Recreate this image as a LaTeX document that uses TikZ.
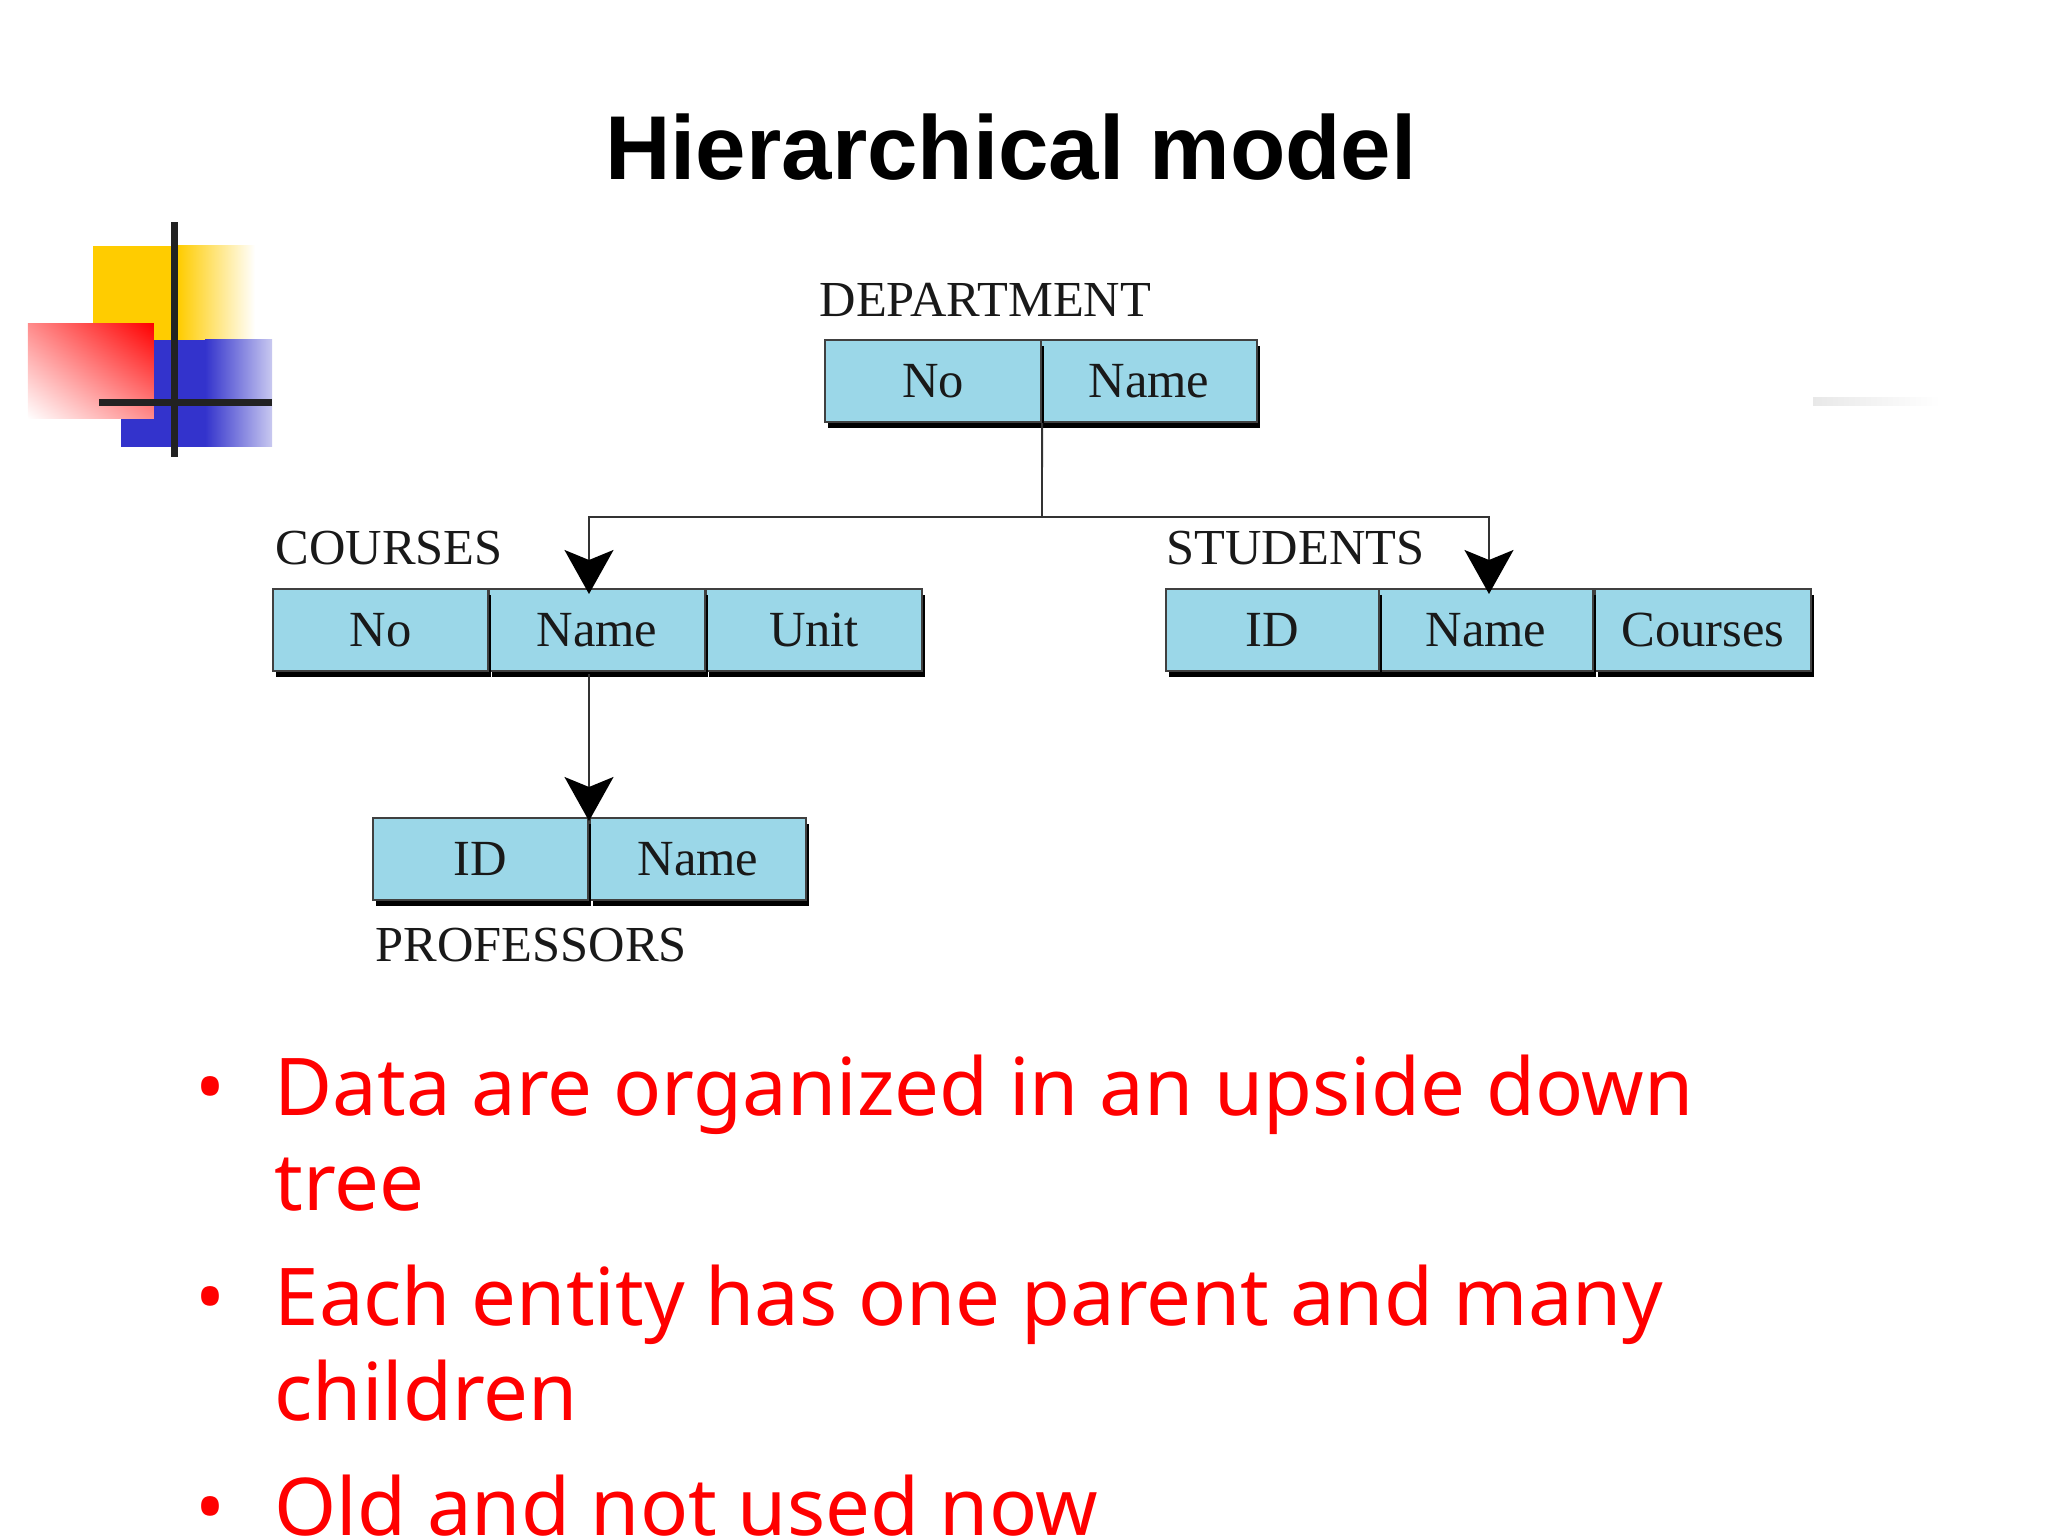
\documentclass[tikz,border=0pt]{standalone}
\usepackage{fontspec}
\setmainfont{Liberation Serif}
\newfontfamily\titlefont{Liberation Sans}
\newfontfamily\bulletfont{Noto Sans}
\usepackage{xcolor}
\usetikzlibrary{arrows.meta}
\usetikzlibrary{shadings}
\usetikzlibrary{shadows}
\definecolor{cellblue}{HTML}{9BD7E8}
\definecolor{logoyellow}{HTML}{FFCC00}
\definecolor{logoblue}{HTML}{3333CC}
\definecolor{logoedge}{HTML}{C8C8F0}
\definecolor{logopink}{HTML}{FF8C8C}
\definecolor{logobar}{HTML}{222222}
\tikzset{
  cell/.style={draw=black!75, line width=0.6pt, fill=cellblue, inner sep=0pt, minimum height=0.82cm,
    font=\fontsize{14.4}{16}\selectfont, text=black!90,
    drop shadow={shadow xshift=0.03cm, shadow yshift=-0.06cm, fill=black, opacity=1}},
  tablelabel/.style={anchor=base west, inner sep=0pt, font=\fontsize{14.35}{16}\selectfont, text=black!90},
  treeline/.style={line width=0.55pt, black!80},
  treearrow/.style={treeline, -{Stealth[length=0.44cm, width=0.49cm, inset=0.1cm, color=black]}},
  bulletline/.style={anchor=base west, inner sep=0pt, text=red, font=\bulletfont\fontsize{22.67}{26}\selectfont},
  bulletdot/.style={anchor=base, inner sep=0pt, text=red, font=\bulletfont\fontsize{22.67}{26}\selectfont},
}
\begin{document}
\begin{tikzpicture}[y=-1cm]
\useasboundingbox (0,0) rectangle (20.48,15.36);
% logo
\fill[logoyellow] (0.93,2.46) rectangle (1.78,3.40);
\shade[left color=logoyellow, right color=white] (1.78,2.46) rectangle (2.55,3.40);
\fill[logoblue] (1.21,3.40) rectangle (2.05,4.47);
\shade[left color=logoblue, right color=logoedge] (2.05,3.40) rectangle (2.72,4.47);
\shade[shading=bilinear interpolation, upper right=red, upper left=logopink, lower right=logopink, lower left=white] (0.28,3.24) rectangle (1.54,4.19);
\fill[logobar] (1.71,2.22) rectangle (1.78,4.57);
\fill[logobar] (0.99,3.99) rectangle (2.72,4.06);
\shade[left color=black!9, right color=white] (18.13,3.98) rectangle (19.40,4.06);
%
\node[font=\titlefont\bfseries\fontsize{25.8}{30}\selectfont, anchor=base, inner sep=0pt] (title) at (10.11,1.80) {Hierarchical model};
%
% department
\node[cell, minimum width=2.16cm] (deptName) at (11.49,3.81) {Name};
\node[cell, minimum width=2.16cm] (deptNo) at (9.33,3.81) {No};
\node[tablelabel] (deptLabel) at (8.19,3.17) {DEPARTMENT};
%
% courses
\node[cell, minimum width=2.16cm] (courseUnit) at (8.14,6.30) {Unit};
\node[cell, minimum width=2.16cm] (courseName) at (5.97,6.30) {Name};
\node[cell, minimum width=2.15cm] (courseNo) at (3.805,6.30) {No};
\node[tablelabel] (courseLabel) at (2.75,5.65) {COURSES};
%
% students
\node[cell, minimum width=2.16cm] (studentCourses) at (17.03,6.30) {Courses};
\node[cell, minimum width=2.14cm] (studentName) at (14.86,6.30) {Name};
\node[cell, minimum width=2.13cm] (studentId) at (12.725,6.30) {ID};
\node[tablelabel] (studentLabel) at (11.66,5.65) {STUDENTS};
%
% professors
\node[cell, minimum width=2.16cm] (profName) at (6.98,8.59) {Name};
\node[cell, minimum width=2.15cm] (profId) at (4.805,8.59) {ID};
\node[tablelabel] (profLabel) at (3.75,9.61) {PROFESSORS};
%
% connectors
\coordinate (split) at (10.42,5.17);
\coordinate (courseIn) at (5.89,5.94);
\coordinate (studentIn) at (14.89,5.94);
\coordinate (courseOut) at (5.89,6.74);
\coordinate (profIn) at (5.89,8.21);
\draw[treeline] (deptNo.south east) -- (split);
\draw[treearrow] (split) -| (courseIn);
\draw[treearrow] (split) -| (studentIn);
\draw[treearrow] (courseOut) -- (profIn);
%
% bullets
\node[bulletdot] (dotData) at (2.10,11.15) {•};
\node[bulletline] (dataA) at (2.74,11.15) {Data are organized in an upside down};
\node[bulletline] (dataB) at (2.74,12.10) {tree};
\node[bulletdot] (dotEach) at (2.10,13.25) {•};
\node[bulletline] (eachA) at (2.74,13.25) {Each entity has one parent and many};
\node[bulletline] (eachB) at (2.74,14.20) {children};
\node[bulletdot] (dotOld) at (2.10,15.35) {•};
\node[bulletline] (oldA) at (2.74,15.35) {Old and not used now};
\end{tikzpicture}
\end{document}
